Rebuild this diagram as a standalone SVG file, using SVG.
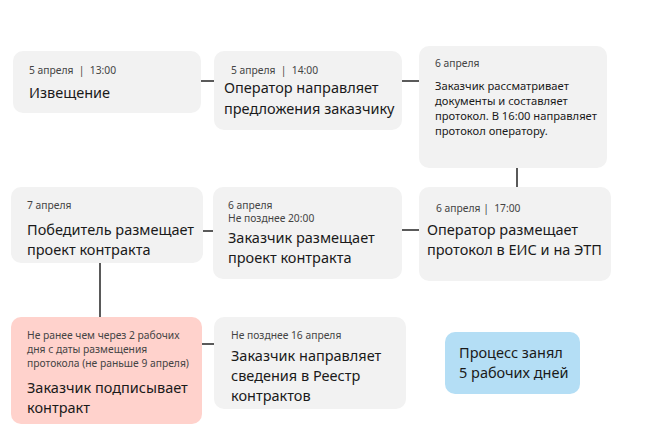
<svg xmlns="http://www.w3.org/2000/svg" width="645" height="447" viewBox="0 0 645 447">
<style>
.box{fill:#f2f2f2}
.pink{fill:#ffd2cc}
.blue{fill:#b4def5}
.d{font-family:"Noto Sans","Open Sans",sans-serif;font-size:10.3px;fill:#444}
.t{font-family:"Noto Sans","Open Sans",sans-serif;font-size:14.5px;fill:#1a1a1a}
.m{font-family:"Noto Sans","Open Sans",sans-serif;font-size:11.2px;fill:#1a1a1a}
.c{stroke:#000;stroke-width:1.3;fill:none}
</style>
<rect width="645" height="447" fill="#fff"/>
<g id="connectors">
<line class="c" x1="201" y1="81" x2="214" y2="81"/>
<line class="c" x1="402" y1="81" x2="419" y2="81"/>
<line class="c" x1="517" y1="168" x2="517" y2="187"/>
<line class="c" x1="402" y1="230" x2="419" y2="230"/>
<line class="c" x1="201" y1="231" x2="214" y2="231"/>
<line class="c" x1="100" y1="263" x2="100" y2="317"/>
<line class="c" x1="202" y1="344" x2="214" y2="344"/>
</g>
<g id="n1">
<rect class="box" x="13" y="51" width="188" height="62" rx="10"/>
<text class="d" x="29" y="74" xml:space="preserve">5 апреля  |  13:00</text>
<text class="t" x="29" y="98">Извещение</text>
</g>
<g id="n2">
<rect class="box" x="214" y="51" width="188" height="79" rx="10"/>
<text class="d" x="231" y="74" xml:space="preserve">5 апреля  |  14:00</text>
<text class="t" x="224" y="93">Оператор направляет</text>
<text class="t" x="224" y="114">предложения заказчику</text>
</g>
<g id="n3">
<rect class="box" x="419" y="46" width="188" height="122" rx="10"/>
<text class="d" x="435" y="67">6 апреля</text>
<text class="m" x="435" y="90">Заказчик рассматривает</text>
<text class="m" x="435" y="105">документы и составляет</text>
<text class="m" x="435" y="120">протокол. В 16:00 направляет</text>
<text class="m" x="435" y="135">протокол оператору.</text>
</g>
<g id="n4">
<rect class="box" x="419" y="187" width="192" height="94" rx="10"/>
<text class="d" x="436" y="212" xml:space="preserve">6 апреля |  17:00</text>
<text class="t" x="427" y="235">Оператор размещает</text>
<text class="t" x="427" y="255">протокол в ЕИС и на ЭТП</text>
</g>
<g id="n5">
<rect class="box" x="213" y="187" width="189" height="92" rx="10"/>
<text class="d" x="228" y="209">6 апреля</text>
<text class="d" x="228" y="222">Не позднее 20:00</text>
<text class="t" x="228" y="243">Заказчик размещает</text>
<text class="t" x="228" y="263">проект контракта</text>
</g>
<g id="n6">
<rect class="box" x="11" y="187" width="192" height="76" rx="10"/>
<text class="d" x="27" y="209">7 апреля</text>
<text class="t" x="27" y="235">Победитель размещает</text>
<text class="t" x="27" y="255">проект контракта</text>
</g>
<g id="n7">
<rect class="pink" x="11" y="317" width="191" height="107" rx="10"/>
<text class="d" x="27" y="339">Не ранее чем через 2 рабочих</text>
<text class="d" x="27" y="353">дня с даты размещения</text>
<text class="d" x="27" y="367">протокола (не раньше 9 апреля)</text>
<text class="t" x="27" y="393">Заказчик подписывает</text>
<text class="t" x="27" y="413">контракт</text>
</g>
<g id="n8">
<rect class="box" x="214" y="317" width="192" height="92" rx="10"/>
<text class="d" x="231" y="339">Не позднее 16 апреля</text>
<text class="t" x="231" y="361">Заказчик направляет</text>
<text class="t" x="231" y="381">сведения в Реестр</text>
<text class="t" x="231" y="401">контрактов</text>
</g>
<g id="n9">
<rect class="blue" x="445" y="332" width="135" height="62" rx="10"/>
<text class="t" x="459" y="358">Процесс занял</text>
<text class="t" x="459" y="378">5 рабочих дней</text>
</g>
</svg>
